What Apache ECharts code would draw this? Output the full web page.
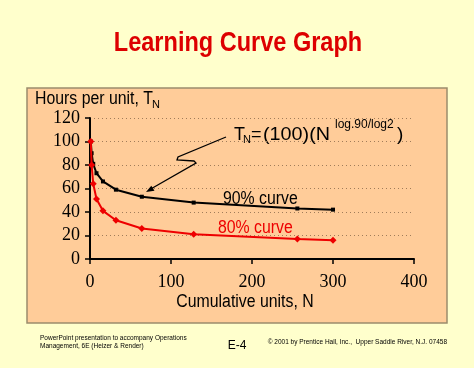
<!DOCTYPE html>
<html>
<head>
<meta charset="utf-8">
<script src="https://cdn.jsdelivr.net/npm/echarts@6/dist/echarts.min.js"></script>
<style>
html,body{margin:0;padding:0;background:#ffffcc;}
#c{width:474px;height:368px;}
</style>
</head>
<body>
<div id="c"></div>
<script>
var units = [1, 2, 4, 8, 16, 32, 64, 128, 256, 300];
var hours90 = [100, 90, 81, 73, 66, 59, 53, 48, 43, 42];
var hours80 = [100, 80, 64, 51, 41, 33, 26, 21, 17, 16];
var xTicks = [0, 100, 200, 300, 400];
var yTicks = [0, 20, 40, 60, 80, 100, 120];

function pairs(xs, ys) { return xs.map(function (x, i) { return [x, ys[i]]; }); }

var chart = echarts.init(document.getElementById('c'), null, { renderer: 'canvas' });
var sans = 'Liberation Sans, Arial, sans-serif';
var serif = 'Liberation Serif, Times New Roman, serif';

var option = {
  backgroundColor: '#ffffcc',
  animation: false,
  grid: { left: 90, right: 60, top: 118, bottom: 109, containLabel: false },
  xAxis: {
    type: 'value', min: xTicks[0], max: xTicks[xTicks.length - 1], interval: 100,
    axisLine: { show: true, onZero: false, lineStyle: { color: '#000', width: 2 } },
    axisTick: { show: true, length: 5, lineStyle: { color: '#000', width: 1.5 } },
    axisLabel: { margin: 14, color: '#000', fontFamily: serif, fontSize: 18 },
    splitLine: { show: false }
  },
  yAxis: {
    type: 'value', min: yTicks[0], max: yTicks[yTicks.length - 1], interval: 20,
    axisLine: { show: true, lineStyle: { color: '#000', width: 2 } },
    axisTick: { show: true, length: 5, lineStyle: { color: '#000', width: 1.5 } },
    axisLabel: { margin: 10, color: '#000', fontFamily: serif, fontSize: 18 },
    splitLine: { show: true, lineStyle: { color: '#a07c5a', type: [1, 3], width: 1 } }
  },
  series: [
    {
      name: '90% curve', type: 'line', data: pairs(units, hours90),
      symbol: 'rect', symbolSize: 4, showSymbol: true,
      lineStyle: { color: '#000', width: 2 }, itemStyle: { color: '#000' }, z: 3
    },
    {
      name: '80% curve', type: 'line', data: pairs(units, hours80),
      symbol: 'diamond', symbolSize: 7, showSymbol: true,
      lineStyle: { color: '#ee0000', width: 2 }, itemStyle: { color: '#ee0000' }, z: 4
    }
  ],
  graphic: [
    { type: 'rect', z: -10, shape: { x: 27, y: 88, width: 420, height: 235 },
      style: { fill: '#ffcc99', stroke: '#9c8c6c', lineWidth: 1.5 } },
    { type: 'text', z: 10, x: 238, y: 43, scaleX: 0.84,
      style: { text: 'Learning Curve Graph', fill: '#dd0000', font: 'bold 28px ' + sans,
        align: 'center', verticalAlign: 'middle',
        shadowColor: 'rgba(70,0,0,0.85)', shadowOffsetX: 2, shadowOffsetY: 2, shadowBlur: 1 } },
    { type: 'text', x: 35, y: 99, scaleX: 0.88, style: { text: 'Hours per unit, T', fill: '#000', font: '18px ' + sans, verticalAlign: 'middle' } },
    { type: 'text', x: 152, y: 105, style: { text: 'N', fill: '#000', font: '11px ' + sans, verticalAlign: 'middle' } },
    { type: 'text', x: 245, y: 302, scaleX: 0.88, style: { text: 'Cumulative units, N', fill: '#000', font: '18px ' + sans, align: 'center', verticalAlign: 'middle' } },
    { type: 'text', x: 234, y: 135, style: { text: 'T', fill: '#000', font: '18px ' + sans, verticalAlign: 'middle' } },
    { type: 'text', x: 243, y: 140, style: { text: 'N', fill: '#000', font: '11px ' + sans, verticalAlign: 'middle' } },
    { type: 'text', x: 251, y: 135, style: { text: '=', fill: '#000', font: '18px ' + sans, verticalAlign: 'middle' } },
    { type: 'text', x: 263, y: 135, scaleX: 1.04, style: { text: '(100)(N', fill: '#000', font: '19px ' + sans, verticalAlign: 'middle' } },
    { type: 'text', x: 335, y: 125, style: { text: 'log.90/log2', fill: '#000', font: '12px ' + sans, verticalAlign: 'middle' } },
    { type: 'text', x: 397, y: 135, style: { text: ')', fill: '#000', font: '19px ' + sans, verticalAlign: 'middle' } },
    { type: 'polyline', z: 10, shape: { points: [[226, 137], [178, 157], [177, 160], [194, 161], [196, 163], [149, 190]] },
      style: { stroke: '#000', lineWidth: 1.3, fill: null } },
    { type: 'polygon', z: 10, shape: { points: [[146, 192], [154.5, 190.8], [151.3, 185.8]] }, style: { fill: '#000' } },
    { type: 'text', x: 223, y: 199, scaleX: 0.88, style: { text: '90% curve', fill: '#000', font: '18px ' + sans, verticalAlign: 'middle' } },
    { type: 'text', x: 218, y: 228, scaleX: 0.88, style: { text: '80% curve', fill: '#ee0000', font: '18px ' + sans, verticalAlign: 'middle' } },
    { type: 'text', x: 40, y: 342, style: { text: 'PowerPoint presentation to accompany Operations\nManagement, 6E (Heizer & Render)', fill: '#000', font: '6.5px ' + sans, verticalAlign: 'middle', lineHeight: 8 } },
    { type: 'text', x: 237, y: 346, style: { text: 'E-4', fill: '#000', font: '12px ' + sans, align: 'center', verticalAlign: 'middle' } },
    { type: 'text', x: 447, y: 342, style: { text: '\u00a9 2001 by Prentice Hall, Inc.,  Upper Saddle River, N.J. 07458', fill: '#000', font: '6.5px ' + sans, align: 'right', verticalAlign: 'middle' } }
  ]
};
chart.setOption(option);
</script>
</body>
</html>
